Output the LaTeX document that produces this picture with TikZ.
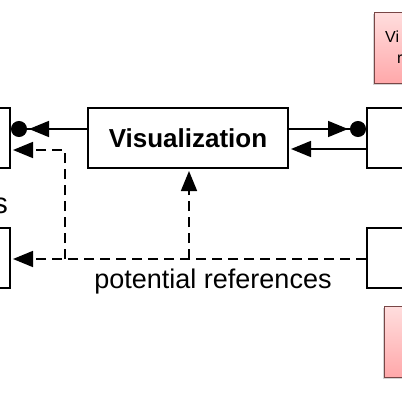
\documentclass[tikz,border=0pt]{standalone}
\usepackage{fontspec}
\setmainfont{Liberation Sans}
\usetikzlibrary{arrows.meta,shadows}
\definecolor{pinktop}{RGB}{255,222,222}
\definecolor{pinkbot}{RGB}{255,168,170}
\definecolor{pinkedge}{RGB}{120,70,70}
\tikzset{
  box/.style={draw=black, line width=2pt, fill=white, inner sep=0pt},
  notebox/.style={draw=pinkedge, line width=0.8pt, top color=pinktop, bottom color=pinkbot,
    inner sep=0pt, minimum width=120pt, minimum height=71pt,
    drop shadow={shadow xshift=-1.2pt, shadow yshift=-1.5pt, opacity=0.35}},
  conn/.style={line width=1.6pt},
  tri/.tip={Triangle[length=20pt, width=16pt]},
  dot/.tip={Circle[length=16pt]},
  refline/.style={conn, dash pattern=on 10pt off 6pt},
  lbl/.style={font=\fontsize{27}{31}\selectfont, inner sep=0pt},
}
\begin{document}
\begin{tikzpicture}[x=1pt, y=-1pt]
\useasboundingbox (0,0) rectangle (402,402);
\clip (0,0) rectangle (402,402);

% annotation notes on the right
\node[notebox] (noteA) at (434,47.5) {};
\node[anchor=west, font=\fontsize{16}{19}\selectfont, inner sep=0pt] (noteAa) at (385,37) {Vi};
\node[anchor=west, font=\fontsize{16}{19}\selectfont, inner sep=0pt] (noteAb) at (397,59) {r};
\node[notebox] (noteB) at (444,341.5) {};

% component boxes
\node[box, minimum width=200pt, minimum height=60pt, font=\fontsize{26}{30}\selectfont\bfseries] (vis) at (188,138) {Visualization};
\node[box, minimum width=160pt, minimum height=60pt] (lt) at (-70,138) {};
\node[box, minimum width=160pt, minimum height=60pt] (lb) at (-70,258) {};
\node[box, minimum width=160pt, minimum height=60pt] (rt) at (447,138) {};
\node[box, minimum width=160pt, minimum height=60pt] (rb) at (447,258) {};

% solid references
\draw[conn, -{tri[sep=2pt] dot}] ([yshift=9pt]vis.west) -- ([yshift=9pt]lt.east);
\draw[conn, -{tri[sep=2pt] dot}] ([yshift=9pt]vis.east) -- ([yshift=9pt]rt.east -| rt.west);
\draw[conn, -{tri}, shorten >=2pt] ([yshift=-11pt]rt.west) -- ([yshift=-11pt]vis.east);

% potential (dashed) references
\coordinate (jl) at (65,259);
\coordinate (jv) at (189,259);
\draw[refline, -{tri}, shorten >=2pt] ([yshift=-1pt]rb.west) -- ([yshift=-1pt]lb.east);
\draw[refline, -{tri}, shorten >=2pt] (jl) |- ([yshift=-12pt]lt.east);
\draw[refline, -{tri}, shorten >=2pt] (jv) -- (jv |- vis.south);

% labels
\node[lbl, anchor=base] (pot) at (213,288) {potential references};
\node[anchor=base east, inner sep=0pt, font=\fontsize{29}{32}\selectfont] (sfrag) at (8,213) {s};
\end{tikzpicture}
\end{document}
